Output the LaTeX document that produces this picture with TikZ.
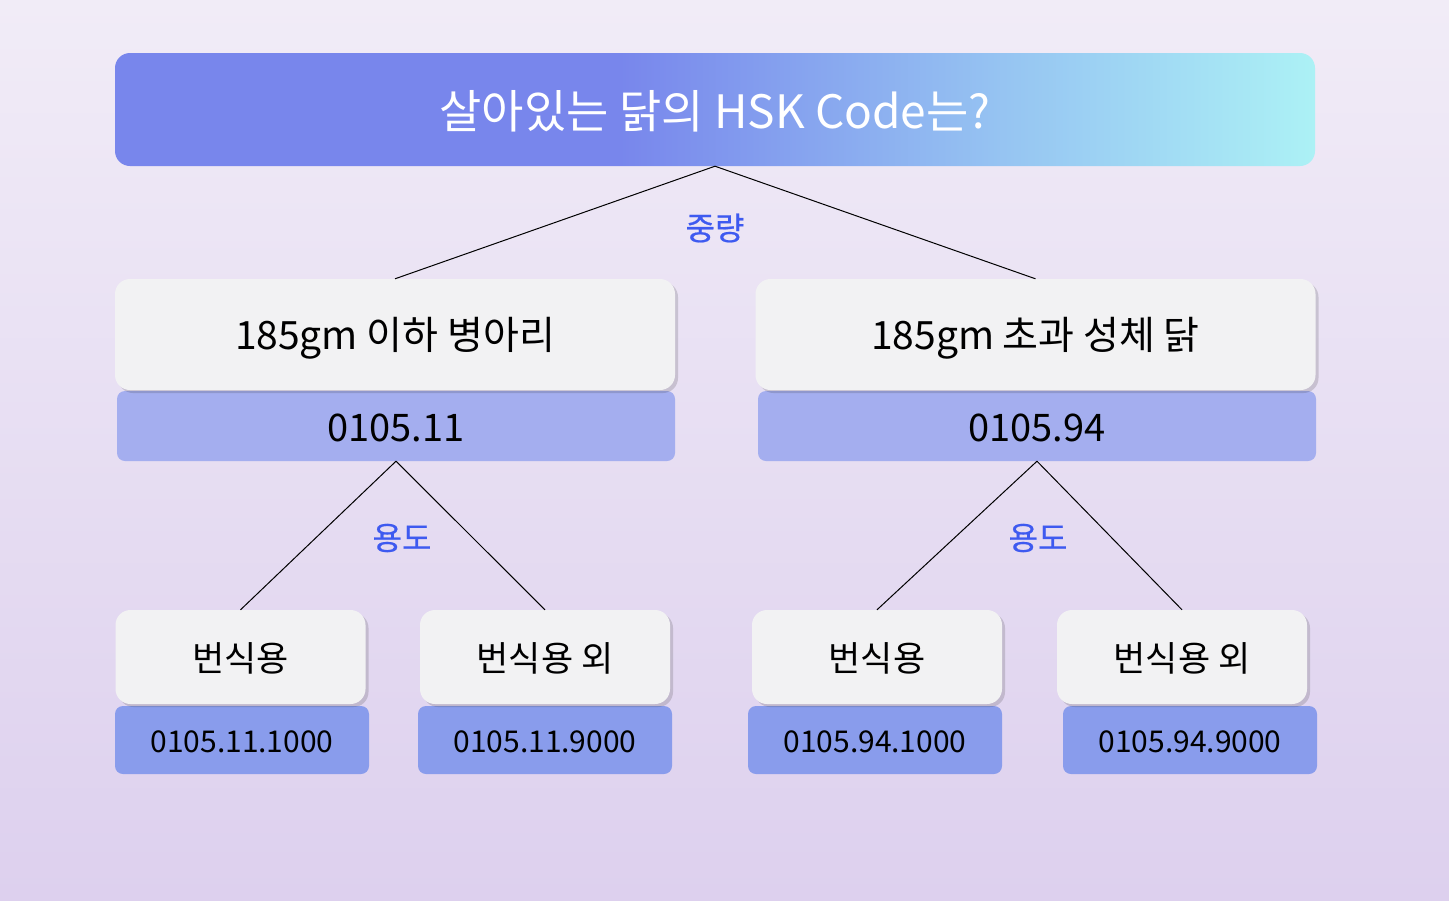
\documentclass[tikz,border=0pt]{standalone}
\usepackage{fontspec}
\setmainfont{Noto Sans CJK KR}
\newfontfamily\lblfont{Noto Sans CJK KR}[FakeBold=0.6]
\usetikzlibrary{shadows}
\definecolor{bgT}{RGB}{241,236,247}
\definecolor{bgB}{RGB}{221,208,238}
\definecolor{tA}{RGB}{120,134,236}
\definecolor{tB}{RGB}{150,196,242}
\definecolor{tC}{RGB}{172,241,245}
\definecolor{whiteBox}{RGB}{242,242,243}
\definecolor{codeOne}{RGB}{164,174,239}
\definecolor{codeTwo}{RGB}{137,156,236}
\definecolor{lblBlue}{RGB}{62,90,240}
\newcommand{\dn}[2]{\raisebox{-#1pt}[\height][\depth]{#2}}
\pgfdeclarehorizontalshading{titlegrad}{100bp}{color(0bp)=(tA); color(25bp)=(tA); color(46bp)=(tA); color(62bp)=(tB); color(75bp)=(tC); color(100bp)=(tC)}
\tikzset{
  titlebox/.style={shading=titlegrad, rounded corners=15pt, minimum width=1200pt, minimum height=113pt, inner sep=0pt, text=white, font=\fontsize{46}{52}\selectfont},
  wbox/.style={fill=whiteBox, rounded corners=15pt, inner sep=0pt, drop shadow={shadow xshift=3pt, shadow yshift=-3pt, opacity=0.18, fill=black!80}},
  bigw/.style={wbox, minimum width=560pt, minimum height=111pt, font=\fontsize{39}{44}\selectfont},
  leafw/.style={wbox, minimum width=250pt, minimum height=94pt, font=\fontsize{35}{40}\selectfont},
  codeA/.style={fill=codeOne, rounded corners=8pt, inner sep=0pt, minimum width=558pt, minimum height=70pt, font=\fontsize{38}{42}\selectfont},
  codeB/.style={fill=codeTwo, rounded corners=8pt, inner sep=0pt, minimum width=254pt, minimum height=68pt, font=\fontsize{30}{34}\selectfont},
  lbl/.style={text=lblBlue, font=\lblfont\fontsize{32}{36}\selectfont, inner sep=0pt},
  conn/.style={draw=black, line width=1pt}
}
\begin{document}
\begin{tikzpicture}[x=1pt,y=-1pt]
\useasboundingbox (0,0) rectangle (1449,900);
\shade[top color=bgT, bottom color=bgB] (0,0) rectangle (1449,900);
% title
\node[titlebox] (t) at (715,109.5) {\dn{2}{살아있는 닭의 HSK Code는?}};
% code boxes level 1
\node[codeA] (ca) at (396,426) {\dn{2}{0105.11}};
\node[codeA] (cb) at (1037,426) {\dn{2}{0105.94}};
% white level 1
\node[bigw] (a) at (395,334.5) {\dn{4}{185gm 이하 병아리}};
\node[bigw] (b) at (1035.5,334.5) {\dn{4}{185gm 초과 성체 닭}};
% leaf codes
\node[codeB] (c1) at (242,740) {\dn{2}{0105.11.1000}};
\node[codeB] (c2) at (545,740) {\dn{2}{0105.11.9000}};
\node[codeB] (c3) at (875,740) {\dn{2}{0105.94.1000}};
\node[codeB] (c4) at (1190,740) {\dn{2}{0105.94.9000}};
% leaf whites
\node[leafw] (l1) at (240.5,657) {\dn{1}{번식용}};
\node[leafw] (l2) at (545,657) {\dn{1}{번식용 외}};
\node[leafw] (l3) at (877,657) {\dn{1}{번식용}};
\node[leafw] (l4) at (1182,657) {\dn{1}{번식용 외}};
% connectors
\draw[conn] (t.south) -- (a.north);
\draw[conn] (t.south) -- (b.north);
\draw[conn] (ca.south) -- (l1.north);
\draw[conn] (ca.south) -- (l2.north);
\draw[conn] (cb.south) -- (l3.north);
\draw[conn] (cb.south) -- (l4.north);
% labels
\node[lbl] (w) at (715,228) {중량};
\node[lbl] (u1) at (402,538) {용도};
\node[lbl] (u2) at (1038,538) {용도};
\end{tikzpicture}
\end{document}
